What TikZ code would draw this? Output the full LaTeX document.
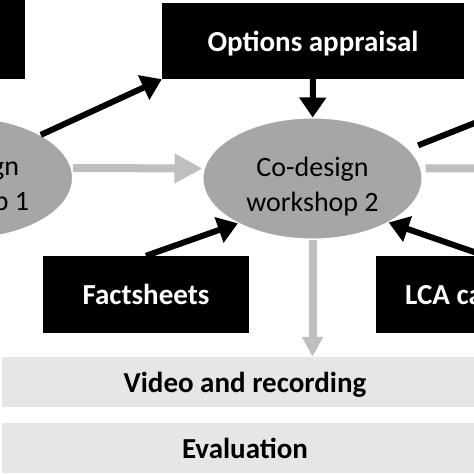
\documentclass[tikz,border=0pt]{standalone}
\usepackage{fontspec}
\setmainfont{Carlito}
\usetikzlibrary{arrows.meta,positioning,shapes.geometric}
\definecolor{wsgray}{HTML}{A6A6A6}
\definecolor{arrgray}{HTML}{BFBFBF}
\definecolor{stripgray}{HTML}{E6E6E6}

\begin{document}
\begin{tikzpicture}[x=1pt,y=-1pt,
		blackbox/.style={fill=black,text=white,inner sep=0pt,text height=20pt,text depth=0pt,
			font=\bfseries\fontsize{29}{35}\selectfont},
		workshop/.style={ellipse,fill=wsgray,draw=white,line width=1pt,minimum width=219pt,minimum height=121pt,
			inner sep=0pt,align=center,text height=65pt,text depth=0pt,font=\fontsize{28}{35}\selectfont},
		strip/.style={fill=stripgray,minimum width=486pt,minimum height=50pt,inner sep=0pt,
			text height=20pt,text depth=0pt,font=\bfseries\fontsize{29}{35}\selectfont},
		blk/.style={line width=6pt,-{Triangle[length=20pt,width=26pt]}},
		gry/.style={draw=arrgray,line width=8pt,-{Triangle[length=28pt,width=28pt]}}]
	\useasboundingbox (0,0) rectangle (474,474);
	\clip (0,0) rectangle (474,474);
	\node[blackbox,minimum width=80pt,minimum height=82pt] (prev) at (-15,38) {};
	\node[blackbox,minimum width=302pt,minimum height=76pt] (opt) at (313,41) {Options appraisal};
	\node[workshop] (ws1) at (-37,178) {Co-design\\workshop 1};
	\node[workshop] (ws2) at (312.5,178.5) {Co-design\\workshop 2};
	\node[blackbox,minimum width=206pt,minimum height=77pt] (fact) at (146,294.5) {Factsheets};
	\node[blackbox,minimum width=218pt,minimum height=77pt] (lca) at (485,294.5) {};
	\node[blackbox,fill=none,anchor=base west] (lcatext) at (405,304) {LCA ca};
	\node[strip] (vid) at (245,382) {Video and recording};
	\node[strip] (eval) at (245,448) {Evaluation};
	\coordinate (rgt) at (548,94);
	\coordinate (rgtgry) at (530,168);
	\draw[blk] (opt) -- (ws2);
	\draw[blk] (ws1.29) -- (opt.south west);
	\draw[blk] (fact.north) -- (ws2.211);
	\draw[blk] (lca.north) -- (ws2.-30);
	\draw[blk,shorten <=10pt] (ws2.17.6) -- (rgt);
	\draw[gry] ([yshift=10pt]ws1.east) -- ([yshift=10pt]ws2.west);
	\draw[gry,shorten <=3pt] ([yshift=10pt]ws2.east) -- (rgtgry);
	\draw[gry,-{Triangle[length=20pt,width=20pt]}] (ws2.south) -- (ws2.south |- vid.north);
\end{tikzpicture}
\end{document}
